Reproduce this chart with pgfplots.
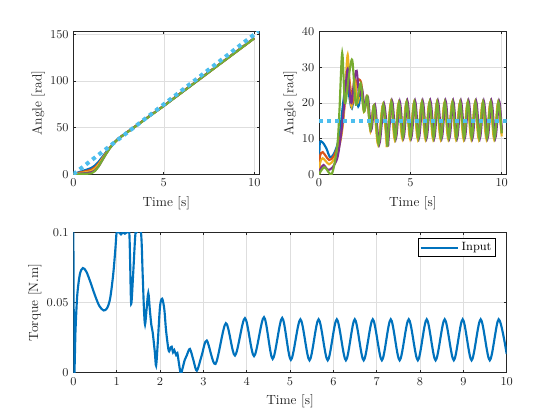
\documentclass[border=0pt]{standalone}
\usepackage{fontspec}
\setmainfont{Latin Modern Roman}
\usepackage{pgfplots}
\pgfplotsset{compat=1.18}
\usepackage{pgfplotstable}
\definecolor{mb}{rgb}{0,0.447,0.741}
\definecolor{mo}{rgb}{0.85,0.325,0.098}
\definecolor{my}{rgb}{0.929,0.694,0.125}
\definecolor{mp}{rgb}{0.494,0.184,0.556}
\definecolor{mg}{rgb}{0.466,0.674,0.188}
\definecolor{mc}{rgb}{0.301,0.745,0.933}
\definecolor{axc}{rgb}{0.15,0.15,0.15}
\definecolor{gridc}{rgb}{0.87,0.87,0.87}

\pgfplotstableread{
t v
3.74 7.8
3.96 20.3
4.17 10.0
4.38 20.0
4.59 10.3
4.80 20.2
5.01 10.3
5.22 20.2
5.43 10.2
5.64 20.2
5.85 10.2
6.06 20.2
6.27 10.2
6.47 20.2
6.68 10.2
6.89 20.2
7.10 10.2
7.31 20.2
7.52 10.2
7.73 20.2
7.94 10.2
8.15 20.2
8.36 10.2
8.56 20.2
8.77 10.2
8.98 20.2
9.19 10.2
9.40 20.2
9.61 10.2
9.82 20.2
10.00 11.5
}\steadyG

\pgfplotstableread{
t v
3.71 7.6
3.93 20.0
4.14 9.8
4.35 19.8
4.56 10.0
4.77 19.9
4.98 10.0
5.19 19.9
5.40 9.9
5.61 19.9
5.82 9.9
6.03 19.9
6.24 9.9
6.44 19.9
6.65 9.9
6.86 19.9
7.07 9.9
7.28 19.9
7.49 9.9
7.70 19.9
7.91 9.9
8.12 19.9
8.33 9.9
8.53 19.9
8.74 9.9
8.95 19.9
9.16 9.9
9.37 19.9
9.58 9.9
9.79 19.9
10.00 10.6
}\steadyY

\pgfplotstableread{
t v
3.78 7.9
4.00 20.5
4.21 10.1
4.42 20.4
4.63 10.3
4.84 20.5
5.05 10.3
5.26 20.5
5.47 10.2
5.68 20.5
5.89 10.2
6.10 20.5
6.31 10.2
6.51 20.5
6.72 10.2
6.93 20.5
7.14 10.2
7.35 20.5
7.56 10.2
7.77 20.5
7.98 10.2
8.19 20.5
8.40 10.2
8.60 20.5
8.81 10.2
9.02 20.5
9.23 10.2
9.44 20.5
9.65 10.2
9.86 20.5
10.00 12.5
}\steadyP

\pgfplotsset{
  mstyle/.style={
    scale only axis,
    anchor=south west,
    axis line style={draw=axc, line width=0.5pt},
    every tick/.style={draw=axc, line width=0.5pt},
    major tick length=2pt,
    tick align=inside,
    grid=major,
    grid style={draw=gridc, line width=0.4pt},
    /pgf/number format/assume math mode=true,
    tick label style={font=\fontsize{9}{10}\selectfont, text=axc},
    label style={font=\fontsize{10}{12}\selectfont, text=axc},
    ylabel shift=-3pt,
    every axis plot/.append style={line width=1.6pt},
    clip=true,
  },
  refline/.style={color=mc, line width=3pt, dash pattern=on 3pt off 3pt},
}

\begin{document}
\begin{tikzpicture}
\useasboundingbox (0,0) rectangle (420pt,315pt);

% ---------- top left ----------
\begin{axis}[mstyle, at={(55pt,184.3pt)}, width=139.5pt, height=107pt,
  xmin=0, xmax=10.28, ymin=0, ymax=153,
  xtick={0,5,10}, ytick={0,50,100,150},
  xticklabels={0,5,10}, yticklabels={0,50,100,150},
  xlabel={Time [s]}, ylabel={Angle [rad]}]
\addplot[mb] coordinates {(0,0) (0.25,1.8) (0.5,3.5) (0.75,5) (1,6.8) (1.2,9.5) (1.4,13.5) (1.6,18.5) (1.8,23.5) (2,28.5) (2.25,34) (2.5,38.5) (2.75,42) (3,45.5) (3.5,52.5) (4,59.5) (5,73.5) (6,88) (7,102.5) (8,117) (9,131.5) (10,146)};
\addplot[mo] coordinates {(0,0) (0.25,1.3) (0.5,2.5) (0.75,3.6) (1,5) (1.2,7.5) (1.4,11.5) (1.6,17) (1.8,22.5) (2,28) (2.25,33.8) (2.5,38.5) (2.75,42) (3,45.5) (3.5,52.5) (4,59.5) (5,73.5) (6,88) (7,102.5) (8,117) (9,131.5) (10,146)};
\addplot[my] coordinates {(0,0) (0.25,0.8) (0.5,1.7) (0.75,2.4) (1,3.5) (1.2,6) (1.4,10.5) (1.6,16.5) (1.8,22.5) (2,28) (2.25,33.6) (2.5,38.3) (2.75,42) (3,45.3) (3.5,52.3) (4,59.3) (5,73.3) (6,87.8) (7,102.3) (8,116.8) (9,131.3) (10,145.8)};
\addplot[mp] coordinates {(0,0) (0.25,0.5) (0.5,0.9) (0.75,1.3) (1,2.2) (1.2,4) (1.4,8.5) (1.6,15) (1.8,21.5) (2,27.5) (2.25,33.3) (2.5,38.3) (2.75,41.8) (3,45.3) (3.5,52.3) (4,59.3) (5,73.3) (6,87.8) (7,102.3) (8,116.8) (9,131.3) (10,145.8)};
\addplot[mg] coordinates {(0,0) (0.25,0.3) (0.5,0.5) (0.75,0.5) (1,1) (1.2,3.5) (1.4,8.5) (1.6,15) (1.8,21.5) (2,27.5) (2.25,33.5) (2.5,38.3) (2.75,41.8) (3,45.2) (3.5,52.2) (4,59.2) (5,73.2) (6,87.7) (7,102.2) (8,116.7) (9,131.2) (10,145.7)};
\addplot[refline] coordinates {(0,0) (10.3,154.5)};
\end{axis}

% ---------- top right ----------
\begin{axis}[mstyle, at={(239.25pt,184.3pt)}, width=140.75pt, height=107pt,
  xmin=0, xmax=10.27, ymin=0, ymax=40,
  xtick={0,5,10}, ytick={0,10,20,30,40},
  xticklabels={0,5,10}, yticklabels={0,10,20,30,40},
  xlabel={Time [s]}, ylabel={Angle [rad]}]
\addplot[mb, smooth] coordinates {(0,0) (0.04,8.5) (0.18,9.0) (0.4,7.3) (0.6,4.8) (0.8,5.6) (1.0,8.2) (1.15,12) (1.3,19) (1.45,25) (1.55,26) (1.65,22) (1.8,18.5) (1.98,24) (2.15,19) (2.32,23) (2.48,17.8) (2.64,21.5) (2.82,12.5) (3.02,19.3) (3.26,8.5) (3.52,19.5) (3.74,7.8)};
\addplot[mb, smooth] table[x=t,y=v] {\steadyG};
\addplot[mo, smooth] coordinates {(0,0) (0.05,5) (0.2,6.2) (0.55,4.0) (0.8,5) (1.0,7.5) (1.2,11) (1.35,17) (1.5,24) (1.6,29) (1.7,25) (1.85,20) (2.05,26) (2.3,25.8) (2.48,18) (2.64,22) (2.82,12.5) (3.02,19.3) (3.26,8.5) (3.52,19.5) (3.74,7.8)};
\addplot[mo, smooth] table[x=t,y=v] {\steadyG};
\addplot[my, smooth] coordinates {(0,0) (0.05,3) (0.2,4.5) (0.55,2.8) (0.8,4) (1.0,6) (1.2,10) (1.35,16) (1.45,25) (1.57,33.5) (1.68,24) (1.78,19) (1.95,27) (2.1,20) (2.3,24) (2.46,17.5) (2.64,21.5) (2.82,12) (3.0,19.2) (3.23,8.4) (3.49,19.3) (3.71,7.6)};
\addplot[my, smooth] table[x=t,y=v] {\steadyY};
\addplot[mp, smooth] coordinates {(0,0) (0.08,1.5) (0.25,2.6) (0.5,1.2) (0.75,2) (1.0,4.5) (1.15,9) (1.3,15) (1.45,24) (1.57,29.5) (1.68,23) (1.78,20) (1.92,26) (2.06,29) (2.2,22) (2.35,24) (2.5,19) (2.68,21.5) (2.86,12.5) (3.06,19.5) (3.30,8.5) (3.56,19.7) (3.78,7.9)};
\addplot[mp, smooth] table[x=t,y=v] {\steadyP};
\addplot[mg, smooth] coordinates {(0,0) (0.3,2.0) (0.7,0.1) (1.0,8) (1.12,18) (1.27,34) (1.42,20) (1.62,27) (1.82,32) (2.02,19.5) (2.28,25.5) (2.46,17.6) (2.64,22) (2.82,12.5) (3.02,19.3) (3.26,8.5) (3.52,19.5) (3.74,7.8)};
\addplot[mg, smooth] table[x=t,y=v] {\steadyG};
\addplot[refline] coordinates {(0,15) (10.3,15)};
\end{axis}

% ---------- bottom ----------
\begin{axis}[mstyle, at={(55pt,35.5pt)}, width=325pt, height=105.3pt,
  xmin=0, xmax=10, ymin=0, ymax=0.1,
  xtick={0,1,2,3,4,5,6,7,8,9,10}, ytick={0,0.05,0.1},
  xticklabels={0,1,2,3,4,5,6,7,8,9,10}, yticklabels={0,0.05,0.1},
  xlabel={Time [s]}, ylabel={Torque [N.m]},
  legend style={at={(0.975,0.957)}, anchor=north east, draw=black, line width=0.5pt,
    font=\fontsize{9}{10}\selectfont, inner sep=1pt},
  legend image code/.code={\draw[#1] (0pt,0pt) -- (28pt,0pt);}]
\addplot[mb, smooth] coordinates {(0,0.105) (0.018,0.0) (0.05,0.03) (0.09,0.055) (0.15,0.07) (0.22,0.0745) (0.3,0.072) (0.4,0.064) (0.5,0.055) (0.6,0.0475) (0.7,0.0443) (0.78,0.046) (0.85,0.053) (0.92,0.07) (0.97,0.088) (1.0,0.1) (1.05,0.1) (1.1,0.0985) (1.14,0.1) (1.19,0.099) (1.24,0.1) (1.29,0.1) (1.31,0.08) (1.335,0.049) (1.38,0.07) (1.43,0.098) (1.46,0.1) (1.56,0.1) (1.6,0.07) (1.63,0.045) (1.655,0.0343) (1.69,0.045) (1.73,0.0567) (1.765,0.045) (1.8,0.034) (1.83,0.029) (1.88,0.0148) (1.91,0.005) (1.95,0.022) (2.0,0.047) (2.05,0.0527) (2.1,0.045) (2.14,0.03) (2.2,0.0157) (2.24,0.0175) (2.27,0.0185) (2.3,0.0145) (2.33,0.016) (2.37,0.0128) (2.4,0.014) (2.44,0.006) (2.48,-0.0008) (2.52,0.003) (2.57,0.009) (2.62,0.0125) (2.69,0.0169) (2.77,0.009) (2.85,0.0014) (2.96,0.012) (3.08,0.0229) (3.28,0.0062) (3.52,0.0352) (3.73,0.0122) (3.96,0.0388) (4.17,0.0118) (4.40,0.0395) (4.60,0.0098) (4.82,0.039) (5.02,0.0091) (5.24,0.038) (5.45,0.0088) (5.66,0.038) (5.87,0.0088) (6.08,0.038) (6.29,0.0088) (6.495,0.038) (6.70,0.0088) (6.91,0.038) (7.12,0.0088) (7.325,0.038) (7.53,0.0088) (7.74,0.038) (7.95,0.0088) (8.155,0.038) (8.36,0.0088) (8.57,0.038) (8.78,0.0088) (8.985,0.038) (9.19,0.0088) (9.40,0.038) (9.61,0.0088) (9.815,0.038) (10,0.0133)};
\addlegendentry{Input}
\end{axis}
\end{tikzpicture}
\end{document}
